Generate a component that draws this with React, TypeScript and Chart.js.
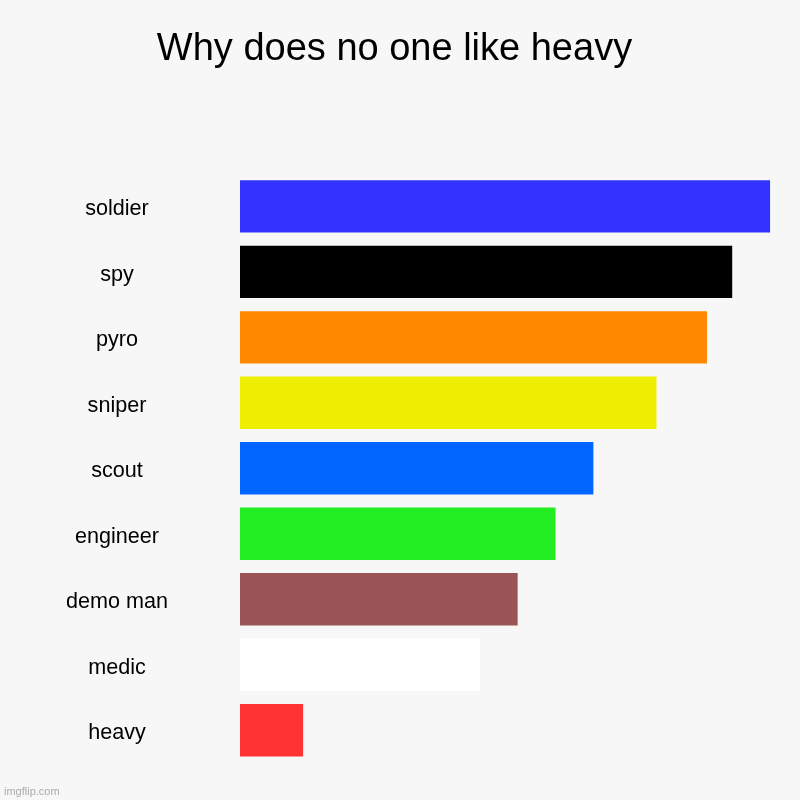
import { useEffect, useRef } from "react";
import Chart from "chart.js/auto";

const classes = ["soldier", "spy", "pyro", "sniper", "scout", "engineer", "demo man", "medic", "heavy"];
const votes = [42, 39, 37, 33, 28, 25, 22, 19, 5];
const barColors = ["#3333ff", "#000000", "#ff8800", "#eeee00", "#0066ff", "#22ee22", "#995555", "#ffffff", "#ff3333"];
const chartTitle = "Why does no one like heavy";

const FONT = "'Liberation Sans', Arial, sans-serif";

export default function App() {
  const ref = useRef<HTMLCanvasElement>(null);

  useEffect(() => {
    if (!ref.current) return;
    const chart = new Chart(ref.current, {
      type: "bar",
      data: {
        labels: classes,
        datasets: [
          {
            data: votes,
            backgroundColor: barColors,
            borderWidth: 0,
            categoryPercentage: 1,
            barPercentage: 0.8,
          },
        ],
      },
      options: {
        indexAxis: "y",
        responsive: false,
        animation: false,
        layout: { padding: { left: 0, right: 11, top: 0, bottom: 37 } },
        plugins: {
          legend: { display: false },
          tooltip: { enabled: false },
          title: {
            display: true,
            text: chartTitle,
            color: "#000",
            font: { family: FONT, size: 38, weight: "normal" },
            padding: { top: 27, bottom: 101 },
          },
        },
        scales: {
          x: {
            display: false,
            min: 0,
            max: 43.5,
          },
          y: {
            border: { display: false },
            grid: { display: false, drawTicks: false },
            ticks: {
              autoSkip: false,
              color: "#000",
              crossAlign: "center",
              padding: 72,
              labelOffset: 3,
              font: { family: FONT, size: 21.6 },
            },
            afterFit: (scale) => {
              // fixed label column; the tick padding is only meant horizontally
              scale.width = 240;
              scale.paddingTop = 0;
              scale.paddingBottom = 0;
            },
          },
        },
      },
    });
    return () => {
      chart.destroy();
    };
  }, []);

  return (
    <div
      style={{
        position: "absolute",
        top: 0,
        left: 0,
        width: 800,
        height: 800,
        background: "#f7f7f7",
      }}
    >
      <canvas ref={ref} width={800} height={800} style={{ display: "block" }} />
      <div
        style={{
          position: "absolute",
          left: 4,
          top: 785,
          fontFamily: FONT,
          fontSize: 11,
          lineHeight: "13px",
          color: "#aaa",
        }}
      >
        imgflip.com
      </div>
    </div>
  );
}
